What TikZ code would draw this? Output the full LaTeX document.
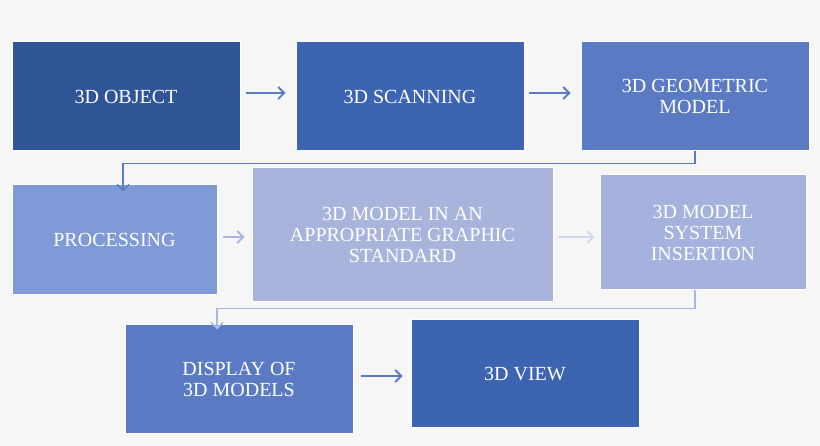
\documentclass[tikz,border=0pt]{standalone}
\usepackage{fontspec}
\setmainfont{Liberation Serif}
\usetikzlibrary{arrows.meta}
\definecolor{bg}{HTML}{F6F6F7}
\definecolor{cA}{HTML}{2F5597}
\definecolor{cB}{HTML}{3C64B1}
\definecolor{cC}{HTML}{5A7BC4}
\definecolor{cD}{HTML}{7F9AD6}
\definecolor{cE}{HTML}{A9B4DC}
\definecolor{cF}{HTML}{A4B2DD}
\definecolor{arr}{HTML}{5B7CC4}
\definecolor{arrL}{HTML}{A9B8E0}
\definecolor{arrLL}{HTML}{D2DAEF}
\tikzset{
 box/.style={draw=white,line width=1pt,text=white,align=center,inner sep=0pt,
   font=\fontsize{20}{21}\selectfont,minimum width=#1},
 conn/.style={draw=arr,line width=1.8pt,-{Straight Barb[length=6pt,width=12pt]}}
}
\begin{document}
\begin{tikzpicture}[x=1pt,y=-1pt]
\fill[bg] (0,0) rectangle (820,446);
\useasboundingbox (0,0) rectangle (820,446);
\node[box=228pt,fill=cA,minimum height=109pt] (a) at (126,96.5) {3D OBJECT};
\node[box=228pt,fill=cB,minimum height=109pt] (b) at (410,96.5) {3D SCANNING};
\node[box=228pt,fill=cC,minimum height=109pt] (c) at (695,96.5) {3D GEOMETRIC\\MODEL};
\node[box=205pt,fill=cD,minimum height=110pt] (d) at (114.5,240) {PROCESSING};
\node[box=301pt,fill=cE,minimum height=134pt] (e) at (402.5,235) {3D MODEL IN AN\\APPROPRIATE GRAPHIC\\STANDARD};
\node[box=206pt,fill=cF,minimum height=115pt] (f) at (703,232.5) {3D MODEL\\SYSTEM\\INSERTION};
\node[box=228pt,fill=cC,minimum height=109pt] (g) at (239,379.5) {DISPLAY OF\\3D MODELS};
\node[box=228pt,fill=cB,minimum height=108pt] (h) at (525,374) {3D VIEW};
\draw[conn] ([xshift=5pt]a.east|-0,93) -- ([xshift=-10pt]b.west|-0,93);
\draw[conn] ([xshift=4pt]b.east|-0,93) -- ([xshift=-10pt]c.west|-0,93);
\draw[conn,line width=1.5pt] (c.south) -- ++(0,12) -| ([yshift=-7pt]d.north-|123,0);
\draw[conn,draw=arrL] ([xshift=5pt]d.east|-0,237) -- ([xshift=-7pt]e.west|-0,237);
\draw[conn,draw=arrLL] ([xshift=4pt]e.east|-0,237) -- ([xshift=-5pt]f.west|-0,237);
\draw[conn,draw=arrL,line width=1.5pt] (f.south-|695,0) -- ++(0,18) -| ([yshift=-5pt]g.north-|217,0);
\draw[conn] ([xshift=7pt]g.east|-0,376) -- ([xshift=-8pt]h.west|-0,376);
\end{tikzpicture}
\end{document}
